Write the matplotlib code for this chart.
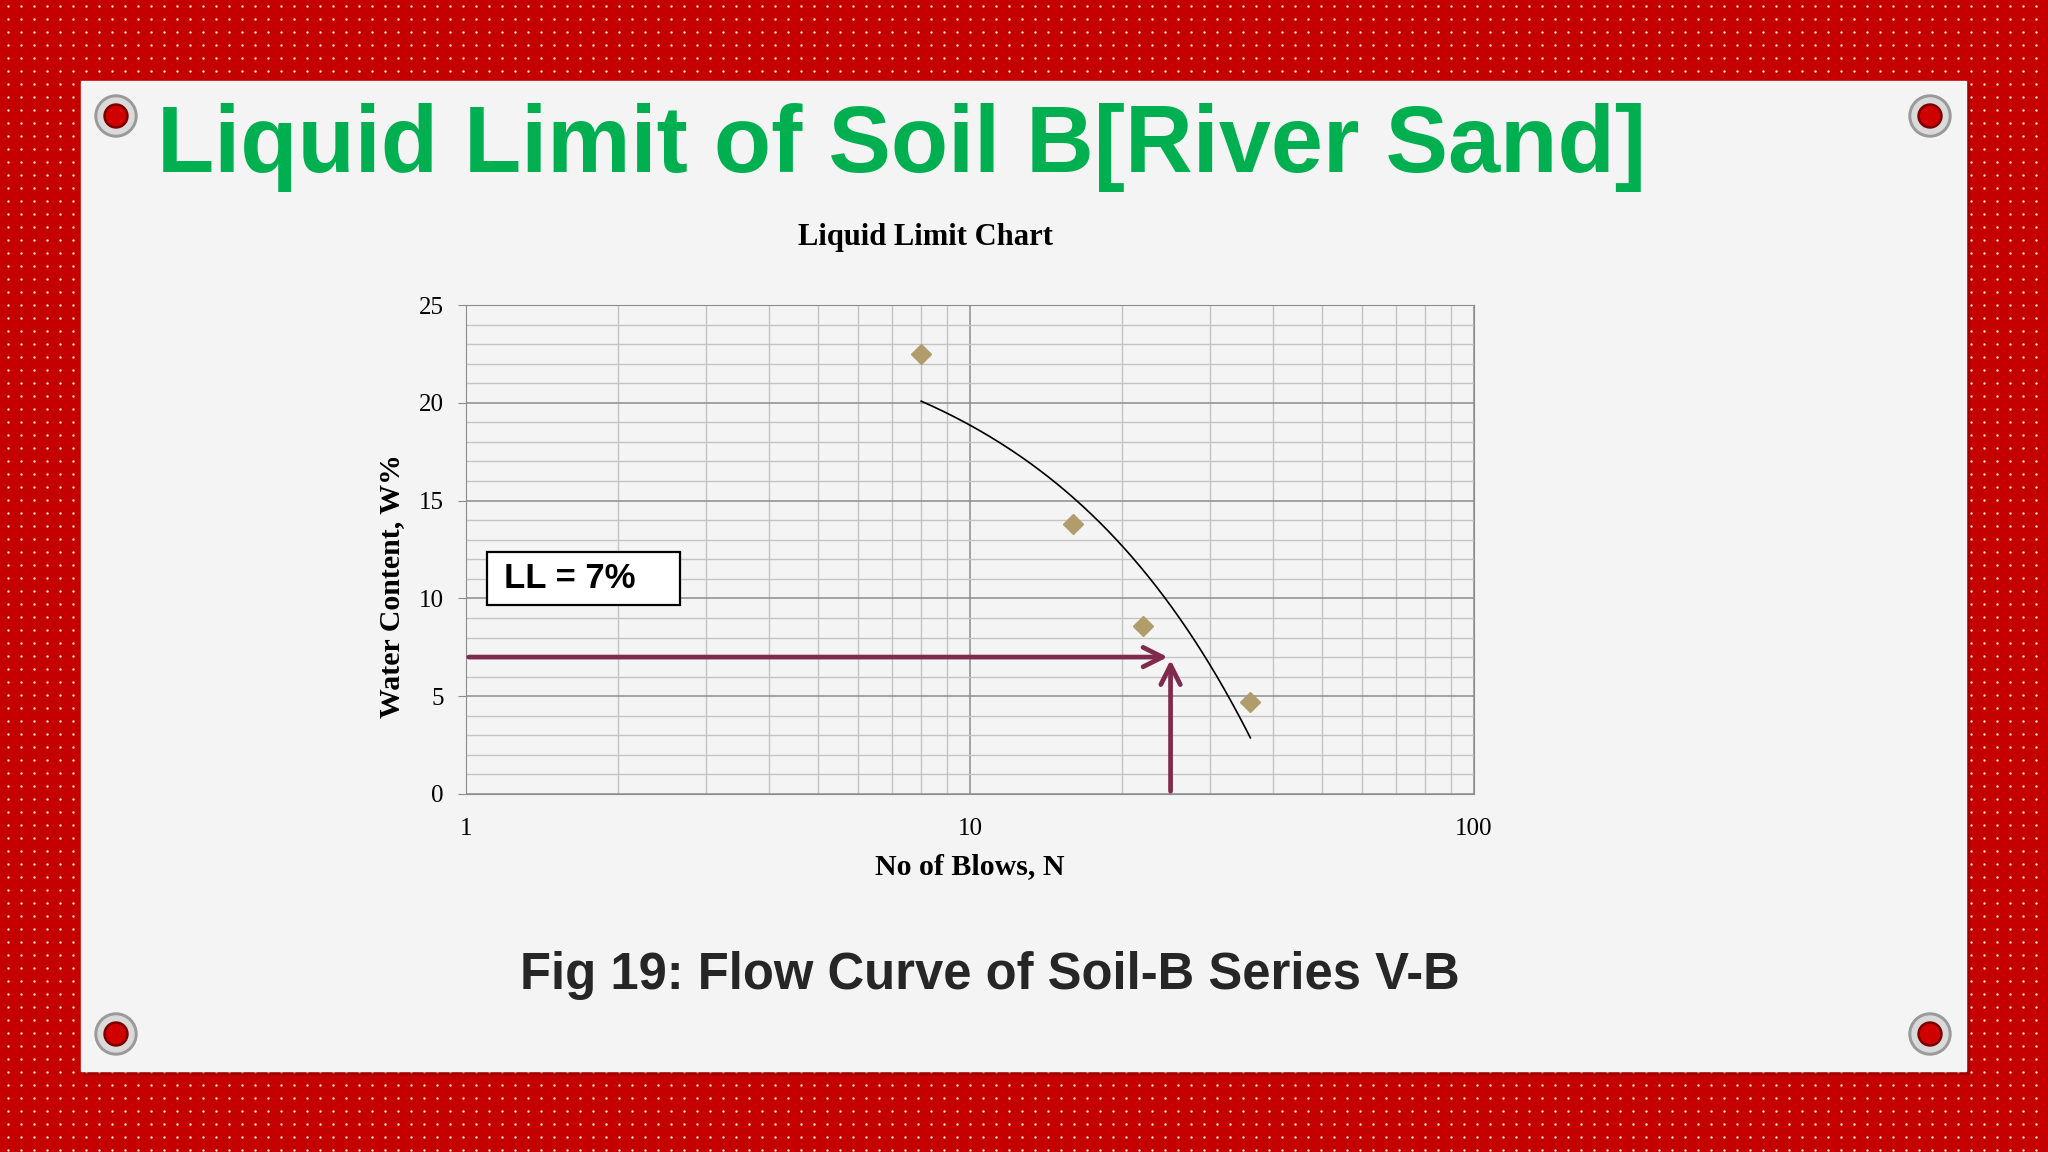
import numpy as np
import matplotlib
matplotlib.use('Agg')
import matplotlib.pyplot as plt
from matplotlib.patches import Rectangle, Circle

# data
blows = [8, 16, 22, 36]
water = [22.5, 13.8, 8.6, 4.7]
ll_blows = 25
ll_value = 7

title = 'Liquid Limit of Soil B[River Sand]'
caption = 'Fig 19: Flow Curve of Soil-B Series V-B'

W, H = 2048, 1152
fig = plt.figure(figsize=(W / 100, H / 100), dpi=100)

# ---- slide background ----
bg = fig.add_axes([0, 0, 1, 1])
bg.set_xlim(0, W)
bg.set_ylim(H, 0)
bg.axis('off')
bg.add_patch(Rectangle((0, 0), W, H, color='#C40000', zorder=0))
gx, gy = np.meshgrid(np.arange(8, W, 13), np.arange(6, H, 13))
bg.scatter(gx.ravel(), gy.ravel(), s=3, c='#FFE6C4', lw=0, zorder=1)
bg.add_patch(Rectangle((84, 84), 1885, 990, color='#8A0000', alpha=0.5, zorder=2))
bg.add_patch(Rectangle((81, 81), 1885, 990, color='#F4F4F4', zorder=3))
for cx, cy in [(116, 116), (1930, 116), (116, 1034), (1930, 1034)]:
    bg.add_patch(Circle((cx, cy), 21, color='#9A9A9A', zorder=4))
    bg.add_patch(Circle((cx, cy), 18, color='#DADADA', zorder=5))
    bg.add_patch(Circle((cx, cy), 12, color='#7A0000', zorder=6))
    bg.add_patch(Circle((cx, cy), 9.5, color='#D00000', zorder=7))

bg.text(157, 172, title, fontsize=67.5, fontweight='bold', color='#00B050',
        family='Liberation Sans', ha='left', va='baseline', zorder=8)
bg.text(990, 975, caption, fontsize=36.5, fontweight='bold', color='#262626',
        family='Liberation Sans', ha='center', va='center', zorder=8)
bg.text(925, 237, 'Liquid Limit Chart', fontsize=22, fontweight='bold',
        family='Liberation Serif', ha='center', va='center', zorder=8)

# ---- chart ----
ax = fig.add_axes([466 / W, 1 - 794 / H, 1008 / W, 489 / H])
ax.set_facecolor('none')
ax.set_xscale('log')
ax.set_xlim(1, 100)
ax.set_ylim(0, 25)
ax.set_yticks(range(0, 26, 5))
ax.set_yticks(range(0, 26), minor=True)
ax.set_xticks([1, 10, 100])
ax.set_xticklabels(['1', '10', '100'])
ax.xaxis.set_minor_formatter(plt.NullFormatter())
ax.grid(True, which='major', color='#8C8C8C', lw=1.1)
ax.grid(True, which='minor', color='#C4C4C4', lw=1.0)
ax.set_axisbelow(True)
for s in ax.spines.values():
    s.set_color('#8C8C8C')
ax.tick_params(which='both', length=0, labelsize=18, pad=17)
ax.tick_params(axis='y', which='major', length=6, color='#8C8C8C', direction='out', pad=10)
for lab in ax.get_xticklabels() + ax.get_yticklabels():
    lab.set_family('Liberation Serif')

ax.set_xlabel('No of Blows, N', fontsize=21.5, fontweight='bold',
              family='Liberation Serif', labelpad=10)
ax.set_ylabel('Water Content, W%', fontsize=21.5, fontweight='bold',
              family='Liberation Serif')
ax.yaxis.set_label_coords(-0.06, 0.425)

ax.plot(blows, water, 'D', markersize=10.5, color='#B19D6B', lw=0, zorder=4)

# linear trendline (as Excel draws it)
k, b = np.polyfit(blows, water, 1)
nn = np.linspace(min(blows), max(blows), 200)
ax.plot(nn, k * nn + b, color='black', lw=1.2, zorder=3)

# LL arrows
acol = '#7F2B4C'
astyle = '->,head_length=1.4,head_width=0.7'
ax.annotate('', xy=(ll_blows, ll_value), xytext=(1, ll_value),
            arrowprops=dict(arrowstyle=astyle, color=acol, lw=3.4), zorder=5)
ax.annotate('', xy=(ll_blows, ll_value), xytext=(ll_blows, 0),
            arrowprops=dict(arrowstyle=astyle, color=acol, lw=3.4), zorder=5)

ax.add_patch(Rectangle((0.0208, 0.3865), 0.1915, 0.1084, transform=ax.transAxes,
                       facecolor='white', edgecolor='black', lw=1.6, zorder=6))
ax.text(0.038, 0.4407, 'LL = 7%', transform=ax.transAxes, fontsize=25,
        fontweight='bold', family='Liberation Sans',
        ha='left', va='center', zorder=7)

fig.savefig('out.png', dpi=100)
